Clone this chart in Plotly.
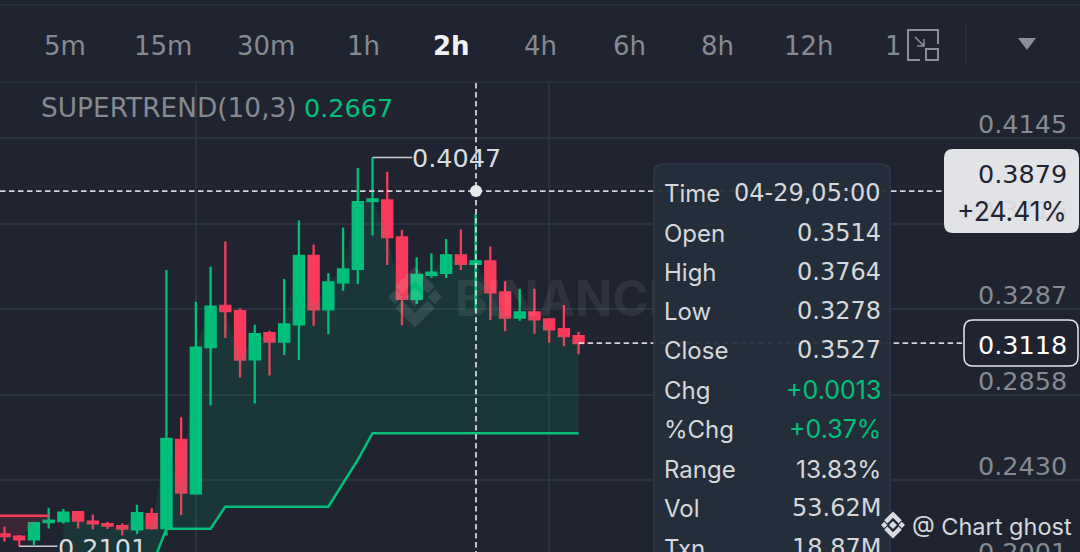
import plotly.graph_objects as go

W, H = 1080, 552
BG = '#1f2430'
GRID = '#2c323d'
GREEN = '#00c07a'
RED = '#f93a5a'
FONT = 'Inter'
NUM_FONT = 'DejaVu Sans'

candle_idx = list(range(-1, 40))
opens = [.2200, .2160, .2149, .2135, .2222, .2227, .2271, .2224, .2212, .2202, .2185, .2262, .2192, .2633,
         .2366, .3098, .3304, .3278, .3037, .3167, .3125, .3212, .3554, .3287, .3422, .3489, .3829, .3832,
         .3647, .3339, .3460, .3470, .3557, .3514, .3527, .3372, .3245, .3272, .3237, .3187, .3152]
highs = [.2260, .2199, .2157, .2224, .2294, .2287, .2271, .2260, .2224, .2215, .2309, .2291, .3484, .2746,
         .3325, .3500, .3627, .3292, .3210, .3180, .3439, .3732, .3611, .3467, .3697, .3994, .4047, .3976,
         .3684, .3547, .3567, .3639, .3687, .3764, .3601, .3427, .3390, .3390, .3237, .3307, .3175]
lows = [.2140, .2124, .2101, .2107, .2190, .2215, .2190, .2185, .2187, .2154, .2162, .2185, .2154, .2257,
        .2359, .2805, .3143, .2945, .2815, .2955, .3058, .3033, .3205, .3162, .3380, .3414, .3656, .3509,
        .3207, .3314, .3445, .3444, .3484, .3278, .3233, .3178, .3230, .3165, .3120, .3102, .3062]
closes = [.2165, .2152, .2135, .2217, .2229, .2269, .2229, .2215, .2204, .2189, .2266, .2192, .2638, .2369,
          .3095, .3300, .3278, .3035, .3163, .3125, .3212, .3554, .3287, .3422, .3487, .3824, .3837, .3649,
          .3339, .3459, .3470, .3557, .3514, .3527, .3372, .3245, .3272, .3237, .3187, .3153, .3118]

# supertrend, red part then green part
st_red_idx = [-1, 0, 1, 2, 3]
st_red = [.2254, .2254, .2254, .2254, .2254]
st_green_idx = list(range(4, 40))
st_green = [.2000, .2000, .2000, .2000, .2000, .2000, .2000, .2189, .2189, .2189, .2189, .2299, .2299, .2299,
            .2299, .2299, .2299, .2299, .2299, .2416, .2533, .2667, .2667, .2667, .2667, .2667, .2667, .2667,
            .2667, .2667, .2667, .2667, .2667, .2667, .2667, .2667]

price_ticks = [.4145, .3716, .3287, .2858, .2430]
price_labels = ['0.4145', '0.3716', '0.3287', '0.2858', '0.2430']
vert_grid = [13, 37]

intervals = ['5m', '15m', '30m', '1h', '2h', '4h', '6h', '8h', '12h', '1']
interval_x = [65, 163, 266, 363, 451, 540, 629, 717, 809, 894]

tip_names = ['Time', 'Open', 'High', 'Low', 'Close', 'Chg', '%Chg', 'Range', 'Vol', 'Txn']
tip_vals = ['04-29,05:00', '0.3514', '0.3764', '0.3278', '0.3527', '+0.0013', '+0.37%', '13.83%', '53.62M', '18.87M']
tip_y = [193, 233, 272, 311, 350, 390, 429, 469, 508, 548]


def px(x):
    return x / W


def py(y):
    return 1 - y / H


def rounded(x0, y0, x1, y1, r):
    return (f'M {px(x0+r)} {py(y0)} L {px(x1-r)} {py(y0)} Q {px(x1)} {py(y0)} {px(x1)} {py(y0+r)} '
            f'L {px(x1)} {py(y1-r)} Q {px(x1)} {py(y1)} {px(x1-r)} {py(y1)} '
            f'L {px(x0+r)} {py(y1)} Q {px(x0)} {py(y1)} {px(x0)} {py(y1-r)} '
            f'L {px(x0)} {py(y0+r)} Q {px(x0)} {py(y0)} {px(x0+r)} {py(y0)} Z')


def diamond(cx, cy, r):
    return (f'M {px(cx)} {py(cy-r)} L {px(cx+r)} {py(cy)} L {px(cx)} {py(cy+r)} L {px(cx-r)} {py(cy)} Z')


def chevron(cx, cy, r, t, up):
    s = -1 if up else 1
    return (f'M {px(cx-r)} {py(cy)} L {px(cx)} {py(cy+s*r)} L {px(cx+r)} {py(cy)} L {px(cx+r-t)} {py(cy-s*t)} '
            f'L {px(cx)} {py(cy+s*(r-2*t))} L {px(cx-r+t)} {py(cy-s*t)} Z')


def binance_logo(cx, cy, u, color, layer):
    paths = [diamond(cx, cy, u), diamond(cx - 2.2*u, cy, u*.8), diamond(cx + 2.2*u, cy, u*.8),
             chevron(cx, cy - 1.2*u, 2.2*u, .8*u, True), chevron(cx, cy + 1.2*u, 2.2*u, .8*u, False)]
    return [dict(type='path', xref='paper', yref='paper', path=p, fillcolor=color,
                 line=dict(width=0), layer=layer) for p in paths]


def label(x, y, text, color, size=25, anchor='left', weight=None, family=FONT):
    f = dict(family=family, size=size, color=color)
    if weight:
        f['weight'] = weight
    # annotations pad their box a little, push the text back to the wanted edge
    nudge = {'left': -2, 'right': 2, 'center': 0}[anchor]
    return dict(xref='paper', yref='paper', x=px(x + nudge), y=py(y), text=text, showarrow=False,
                xanchor=anchor, yanchor='middle', font=f, borderpad=0)


fig = go.Figure()

# fills go under the candles
fig.add_trace(go.Scatter(x=st_red_idx, y=st_red, mode='lines', line=dict(color=RED, width=2.5)))
fig.add_trace(go.Scatter(x=st_red_idx, y=closes[:5], mode='lines', line=dict(width=0),
                         fill='tonexty', fillcolor='rgba(249,58,90,0.14)'))
fig.add_trace(go.Scatter(x=st_green_idx, y=closes[5:], mode='lines', line=dict(width=0)))
fig.add_trace(go.Scatter(x=st_green_idx, y=st_green, mode='lines', line=dict(color=GREEN, width=2.5),
                         fill='tonexty', fillcolor='rgba(0,192,122,0.12)'))

fig.add_trace(go.Candlestick(
    x=candle_idx, open=opens, high=highs, low=lows, close=closes, whiskerwidth=0,
    increasing=dict(line=dict(color=GREEN, width=2.3), fillcolor=GREEN),
    decreasing=dict(line=dict(color=RED, width=2.3), fillcolor=RED)))

# watermark text, sits under the tooltip shape
fig.add_trace(go.Scatter(x=[30.6], y=[.3315], mode='text', text=['<b>BINANCE</b>'], textposition='middle right',
                         textfont=dict(family=FONT, size=49, color='rgba(255,255,255,0.07)')))

shapes = []
shapes += binance_logo(415, 297, 9, 'rgba(255,255,255,0.10)', 'above')

dash = '5.5px,3.5px'
cross = dict(color='#d0d2d6', width=1.8, dash=dash)
# crosshair and last price line
shapes.append(dict(type='line', xref='paper', yref='paper', x0=px(476), x1=px(476), y0=py(83), y1=0, line=cross))
shapes.append(dict(type='line', xref='paper', yref='y', x0=0, x1=px(944), y0=.3879, y1=.3879, line=cross))
shapes.append(dict(type='line', xref='x', yref='y', x0=39, x1=65.2, y0=.3118, y1=.3118, line=cross))
shapes.append(dict(type='circle', xref='paper', yref='paper', x0=px(470), x1=px(482), y0=py(185), y1=py(197),
                   fillcolor='#e8eaed', line=dict(width=0)))
# high and low leaders
lead = dict(color='#c9ccd1', width=1.5)
shapes.append(dict(type='line', xref='x', yref='y', x0=25, x1=27.7, y0=.4047, y1=.4047, line=lead))
shapes.append(dict(type='line', xref='x', yref='y', x0=1, x1=3.6, y0=.2101, y1=.2101, line=lead))

# header strip
shapes.append(dict(type='rect', xref='paper', yref='paper', x0=0, x1=1, y0=py(82), y1=1,
                   fillcolor=BG, line=dict(width=0)))
for yy in (5, 82):
    shapes.append(dict(type='line', xref='paper', yref='paper', x0=0, x1=1, y0=py(yy), y1=py(yy),
                       line=dict(color=GRID, width=1.5)))
shapes.append(dict(type='line', xref='paper', yref='paper', x0=px(966), x1=px(966), y0=py(22), y1=py(67),
                   line=dict(color=GRID, width=1)))
# interval expand icon
icon = dict(color='#8a8f98', width=2)
shapes.append(dict(type='rect', xref='paper', yref='paper', x0=px(926), x1=px(938), y0=py(60), y1=py(49),
                   fillcolor=BG, line=icon))
shapes.append(dict(type='path', xref='paper', yref='paper', line=icon,
                   path=f'M {px(920)} {py(60)} L {px(908)} {py(60)} L {px(908)} {py(30)} L {px(938)} {py(30)} L {px(938)} {py(44)}'))
shapes.append(dict(type='path', xref='paper', yref='paper', line=dict(color='#8a8f98', width=1.5),
                   path=f'M {px(915)} {py(37)} L {px(924)} {py(46)} M {px(924)} {py(39)} L {px(924)} {py(46)} L {px(917)} {py(46)}'))
shapes.append(dict(type='path', xref='paper', yref='paper', fillcolor='#8a8f98', line=dict(width=0),
                   path=f'M {px(1018)} {py(38)} L {px(1036)} {py(38)} L {px(1027)} {py(50)} Z'))

# tooltip
shapes.append(dict(type='path', xref='paper', yref='paper', path=rounded(654, 164, 890, 600, 9),
                   fillcolor='rgba(37,47,59,0.95)', line=dict(color='#303a47', width=1.5)))
# price boxes
shapes.append(dict(type='path', xref='paper', yref='paper', path=rounded(944, 149, 1079, 233, 9),
                   fillcolor='#e1e3e7', line=dict(width=0)))
shapes.append(dict(type='path', xref='paper', yref='paper', path=rounded(964, 320, 1078, 366, 9),
                   fillcolor=BG, line=dict(color='#e6e8eb', width=1.5)))
shapes += binance_logo(893, 525, 4, '#d9dce0', 'above')

ann = []
for name, xx in zip(intervals, interval_x):
    active = name == '2h'
    ann.append(label(xx, 46, name, '#f2f3f5' if active else '#858a93', 26, 'center', 600 if active else None, NUM_FONT))
ann.append(label(42, 108, 'SUPERTREND(10,3)', '#858a93', 26.4, family=NUM_FONT))
ann.append(label(305, 108, '0.2667', GREEN, 25.5, family=NUM_FONT))
for val, txt in zip(price_ticks, price_labels):
    # the 0.3716 label only shows through the light price box
    a = label(1066, 0, txt, '#d6d8dd' if txt == '0.3716' else '#858a93', 25.5, 'right', family=NUM_FONT)
    a.update(yref='y', y=val, yshift=14)
    ann.append(a)
ann.append(label(1066, 552, '0.2001', '#858a93', 25.5, 'right', family=NUM_FONT))
ann.append(label(413, 158, '0.4047', '#d9dce0', 25.5, family=NUM_FONT))
ann.append(label(59, 548, '0.2101', '#d9dce0', 25.5, family=NUM_FONT))
for name, val, yy in zip(tip_names, tip_vals, tip_y):
    ann.append(label(665, yy, name, '#d5d8dc', 24))
    if val.startswith('+'):
        ann.append(label(880, yy, val, GREEN, 25, 'right'))
    elif val.endswith('%'):
        ann.append(label(880, yy, val, '#d5d8dc', 24.5, 'right'))
    else:
        ann.append(label(880, yy, val, '#d5d8dc', 24, 'right', family=NUM_FONT))
ann.append(label(1066, 174, '0.3879', '#1f2430', 25.5, 'right', family=NUM_FONT))
ann.append(label(1066, 211, '+24.41%', '#1f2430', 26.5, 'right'))
ann.append(label(1066, 345, '0.3118', '#ffffff', 25.5, 'right', family=NUM_FONT))
ann.append(label(913, 526, '@ Chart ghost', '#d5d8dc', 23.5))

fig.update_layout(
    width=W, height=H, margin=dict(l=0, r=0, t=0, b=0),
    paper_bgcolor=BG, plot_bgcolor=BG, showlegend=False, hovermode=False, boxgap=.02,
    shapes=shapes, annotations=ann)
fig.update_xaxes(range=[-.306, 73.06], tickvals=vert_grid, showticklabels=False, showgrid=True, gridcolor=GRID,
                 gridwidth=1.5, zeroline=False, showline=False, rangeslider=dict(visible=False), ticks='')
fig.update_yaxes(range=[.2072, .48354], tickvals=price_ticks, showticklabels=False, showgrid=True, gridcolor=GRID,
                 gridwidth=1.5, zeroline=False, showline=False, ticks='')

fig.write_html('out.html', config={'displayModeBar': False},
               post_script="document.body.style.margin='0';document.body.style.overflow='hidden';")
